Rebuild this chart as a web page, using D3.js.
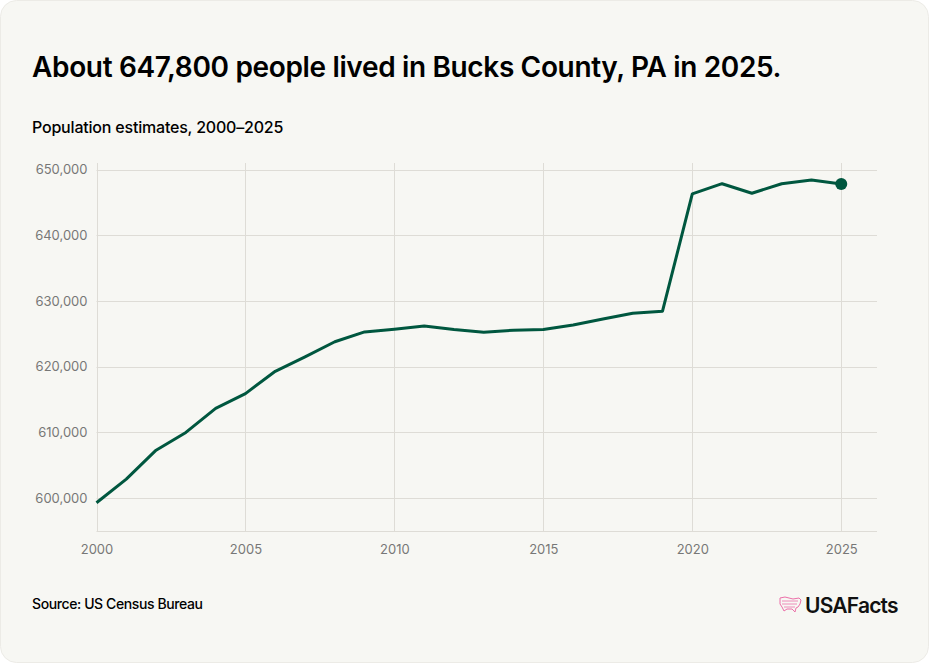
<!DOCTYPE html>
<html>
<head>
<meta charset="utf-8">
<script src="https://cdn.jsdelivr.net/npm/d3@7"></script>
<style>
  html, body { margin: 0; padding: 0; background: #ffffff; }
  svg { display: block; }
</style>
</head>
<body>
<svg id="chart"></svg>
<script>
// population estimates, Bucks County PA
let years = [2000, 2001, 2002, 2003, 2004, 2005, 2006, 2007, 2008, 2009, 2010, 2011, 2012,
    2013, 2014, 2015, 2016, 2017, 2018, 2019, 2020, 2021, 2022, 2023, 2024, 2025];
let population = [599300, 602900, 607300, 610000, 613650, 615900, 619300, 621500, 623800, 625300,
    625700, 626200, 625650, 625250, 625550, 625650, 626350, 627250, 628150, 628450,
    646300, 647850, 646400, 647850, 648400, 647800];
let x_ticks = [2000, 2005, 2010, 2015, 2020, 2025];
let y_ticks = [600000, 610000, 620000, 630000, 640000, 650000];

let width = 929, height = 663;
let padding = { 'left': 96.5, 'right': 52, 'top': 163, 'bottom': 132 };
let line_color = '#00573f';
let grid_color = '#dedcd6';

let svg = d3.select('#chart')
    .attr('width', width)
    .attr('height', height);

// card
svg.append('rect')
    .attr('x', 0.5).attr('y', 0.5)
    .attr('width', width - 1).attr('height', height - 1)
    .attr('rx', 16)
    .attr('fill', '#f7f7f3')
    .attr('stroke', '#ecebe6');

// title
svg.append('text')
    .attr('x', 32).attr('y', 77)
    .attr('font-family', 'Inter, sans-serif')
    .attr('font-weight', 600)
    .attr('font-size', '28px')
    .attr('letter-spacing', '-0.35px')
    .attr('fill', '#000')
    .text('About 647,800 people lived in Bucks County, PA in 2025.');

svg.append('text')
    .attr('x', 32).attr('y', 133)
    .attr('font-family', 'Inter, sans-serif')
    .attr('font-weight', 500)
    .attr('font-size', '16px')
    .attr('letter-spacing', '-0.2px')
    .attr('fill', '#000')
    .text('Population estimates, 2000–2025');

// scales
let x = d3.scaleLinear()
    .domain([2000, 2026.2])
    .range([padding.left, width - padding.right]);
let y = d3.scaleLinear()
    .domain([595000, 651000])
    .range([height - padding.bottom, padding.top]);

// grid
let grid = svg.append('g');
grid.selectAll('.hgrid')
    .data(y_ticks)
    .enter().append('line')
    .attr('x1', padding.left).attr('x2', width - padding.right)
    .attr('y1', d => Math.round(y(d)) + 0.5).attr('y2', d => Math.round(y(d)) + 0.5)
    .attr('stroke', grid_color);
grid.selectAll('.vgrid')
    .data(x_ticks)
    .enter().append('line')
    .attr('x1', d => Math.round(x(d)) + 0.5).attr('x2', d => Math.round(x(d)) + 0.5)
    .attr('y1', padding.top).attr('y2', height - padding.bottom)
    .attr('stroke', grid_color);
// axis base line
grid.append('line')
    .attr('x1', padding.left).attr('x2', width - padding.right)
    .attr('y1', Math.round(height - padding.bottom) + 0.5)
    .attr('y2', Math.round(height - padding.bottom) + 0.5)
    .attr('stroke', grid_color);

// axes
let axis_x = d3.axisBottom(x)
    .tickValues(x_ticks)
    .tickSize(0)
    .tickPadding(14)
    .tickFormat(d => d);
let gx = svg.append('g')
    .attr('transform', `translate(0, ${height - padding.bottom})`)
    .call(axis_x);
gx.select('.domain').remove();

let axis_y = d3.axisLeft(y)
    .tickValues(y_ticks)
    .tickSize(0)
    .tickPadding(9)
    .tickFormat(d3.format(','));
let gy = svg.append('g')
    .attr('transform', `translate(${padding.left}, 0)`)
    .call(axis_y);
gy.select('.domain').remove();

svg.selectAll('.tick text')
    .attr('font-family', 'Inter, sans-serif')
    .attr('font-size', '13px')
    .attr('fill', '#777');

// line
let data = years.map((d, i) => ({ 'year': d, 'value': population[i] }));
let line = d3.line()
    .x(d => x(d.year))
    .y(d => y(d.value));
svg.append('path')
    .datum(data)
    .attr('d', line)
    .attr('fill', 'none')
    .attr('stroke', line_color)
    .attr('stroke-width', 3)
    .attr('stroke-linejoin', 'round');

let last = data[data.length - 1];
svg.append('circle')
    .attr('cx', x(last.year))
    .attr('cy', y(last.value))
    .attr('r', 6)
    .attr('fill', line_color);

// source
svg.append('text')
    .attr('x', 32).attr('y', 609)
    .attr('font-family', 'Inter, sans-serif')
    .attr('font-weight', 500)
    .attr('font-size', '14px')
    .attr('letter-spacing', '-0.4px')
    .attr('fill', '#000')
    .text('Source: US Census Bureau');

// logo
let logo = svg.append('g').attr('transform', 'translate(779, 596)');
logo.append('path')
    .attr('d', 'M1,2 L6,1 L14,3 L20,2 L22,4 L21,8 L19,11 L17,12 L16,16 L13,13 L8,13 L5,15 L3,11 L1,8 Z')
    .attr('fill', 'none')
    .attr('stroke', '#ec6fa8')
    .attr('stroke-width', 1);
logo.append('path')
    .attr('d', 'M3,5 L19,5 M3,8 L18,8 M5,11 L16,11')
    .attr('fill', 'none')
    .attr('stroke', '#ec6fa8')
    .attr('stroke-width', 0.8);
svg.append('text')
    .attr('x', 805).attr('y', 613)
    .attr('font-family', 'Inter, sans-serif')
    .attr('font-weight', 600)
    .attr('font-size', '21px')
    .attr('letter-spacing', '-0.8px')
    .attr('fill', '#111')
    .text('USAFacts');
</script>
</body>
</html>
